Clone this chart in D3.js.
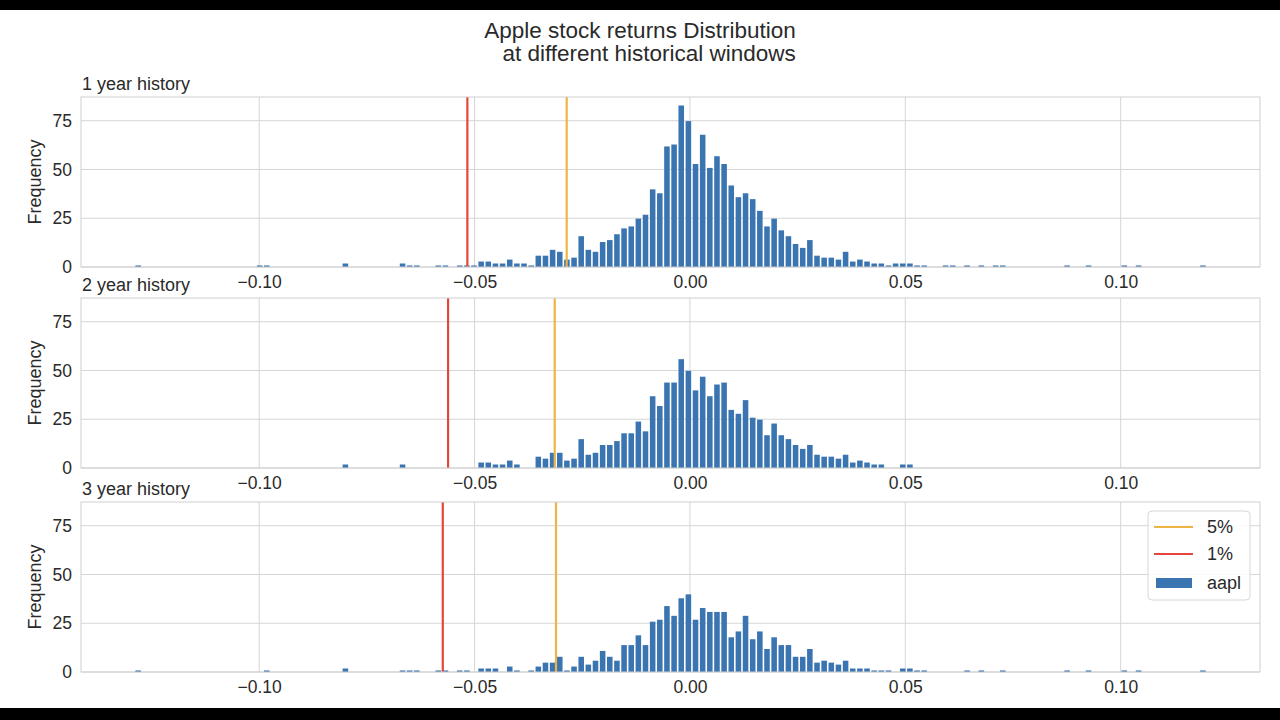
<!DOCTYPE html>
<html>
<head>
<meta charset="utf-8">
<script src="https://cdn.jsdelivr.net/npm/d3@7"></script>
<style>
  html, body { margin: 0; padding: 0; background: #fff; }
  svg { display: block; }
  text { font-family: "Liberation Sans", Arial, sans-serif; }
</style>
</head>
<body>
<svg id="chart" width="1280" height="720"></svg>
<script>
// ---------------- DATA ----------------
const titleLines = ["Apple stock returns Distribution", " at different historical windows"];
const panelTitles = ["1 year history", "2 year history", "3 year history"];
const seriesName = "aapl";
const xTicks = [-0.10, -0.05, 0.00, 0.05, 0.10];
const yTicks = [0, 25, 50, 75];

// histogram bins: 150 equal bins
const binStart = -0.12893;
const binWidth = 0.001659;

// [bin index, count] for non-empty bins
const hist1y = [[0,1],[17,1],[18,1],[29,2],[37,2],[38,1],[39,1],[42,1],[43,1],[45,1],[46,1],[47,1],
  [48,3],[49,3],[50,2],[51,2],[52,4],[53,2],[54,2],[55,1],[56,6],[57,6],[58,9],[59,8],[60,4],[61,5],
  [62,16],[63,9],[64,8],[65,13],[66,14],[67,17],[68,20],[69,21],[70,25],[71,27],[72,40],[73,38],
  [74,62],[75,63],[76,83],[77,75],[78,53],[79,68],[80,51],[81,57],[82,53],[83,42],[84,36],[85,38],
  [86,35],[87,29],[88,21],[89,25],[90,19],[91,16],[92,12],[93,10],[94,14],[95,6],[96,5],[97,5],
  [98,4],[99,8],[100,3],[101,4],[102,3],[103,2],[104,2],[105,1],[106,2],[107,2],[108,2],[109,1],
  [110,1],[113,1],[114,1],[116,1],[118,1],[120,1],[121,1],[130,1],[133,1],[138,1],[140,1],[149,1]];

const hist2y = [[29,2],[37,2],[48,3],[49,3],[50,2],[51,2],[52,4],[53,2],[56,6],[57,5],[58,8],[59,8],
  [60,4],[61,5],[62,15],[63,7],[64,8],[65,12],[66,12],[67,14],[68,18],[69,18],[70,24],[71,19],
  [72,37],[73,32],[74,44],[75,44],[76,56],[77,50],[78,40],[79,47],[80,37],[81,43],[82,44],[83,30],
  [84,28],[85,35],[86,26],[87,25],[88,17],[89,23],[90,17],[91,15],[92,12],[93,10],[94,12],[95,7],
  [96,6],[97,6],[98,5],[99,7],[100,3],[101,4],[102,3],[103,2],[104,2],[107,2],[108,2]];

const hist3y = [[0,1],[18,1],[29,2],[37,1],[38,1],[39,1],[42,1],[43,1],[45,1],[46,1],[48,2],[49,2],
  [50,2],[52,3],[53,1],[55,1],[56,3],[57,5],[58,5],[59,8],[60,1],[61,3],[62,8],[63,4],[64,6],[65,11],
  [66,8],[67,6],[68,14],[69,14],[70,19],[71,14],[72,26],[73,27],[74,34],[75,29],[76,38],[77,40],
  [78,27],[79,33],[80,31],[81,31],[82,31],[83,18],[84,21],[85,29],[86,17],[87,21],[88,12],[89,18],
  [90,14],[91,14],[92,8],[93,8],[94,12],[95,5],[96,6],[97,5],[98,4],[99,6],[100,2],[101,2],[102,2],
  [103,1],[104,1],[105,1],[107,2],[108,2],[109,1],[110,1],[116,1],[118,1],[121,1],[130,1],[133,1],
  [138,1],[140,1],[149,1]];

// VaR lines (5% and 1% quantiles)
const var5 = [-0.02861, -0.03139, -0.03109];
const var1 = [-0.05167, -0.05615, -0.05738];
const legendLabels = ["5%", "1%", "aapl"];

// ---------------- DRAW ----------------
const hists = [hist1y, hist2y, hist3y];
const colors = { bar: "#3a74b1", orange: "#efb446", red: "#e5453a", grid: "#d6d6d6", spine: "#cfcfcf", text: "#2a2a2a" };

const svg = d3.select("#chart");
svg.append("rect").attr("x",0).attr("y",0).attr("width",1280).attr("height",720).attr("fill","#fff");

const plotLeft = 81, plotRight = 1260;
const panelTops = [97, 298, 502];
const panelH = 170;

const x = d3.scaleLinear().domain([-0.14137, 0.13235]).range([plotLeft, plotRight]);
const yMax = 87.15;

// title
svg.append("text").attr("x", 640).attr("y", 38).attr("text-anchor","middle")
  .attr("font-size", 22.5).attr("fill", colors.text).text(titleLines[0]);
svg.append("text").attr("x", 646).attr("y", 61).attr("text-anchor","middle")
  .attr("font-size", 22.5).attr("fill", colors.text).attr("xml:space","preserve").text(titleLines[1]);

const fmt = d => d3.format(".2f")(d).replace("-", "\u2212");

hists.forEach((hist, p) => {
  const top = panelTops[p], bottom = top + panelH;
  const y = d3.scaleLinear().domain([0, yMax]).range([bottom, top]);
  const g = svg.append("g");

  // grid
  g.selectAll(".vg").data(xTicks).enter().append("line")
    .attr("x1", d => x(d)).attr("x2", d => x(d)).attr("y1", top).attr("y2", bottom)
    .attr("stroke", colors.grid).attr("stroke-width", 1);
  g.selectAll(".hg").data(yTicks).enter().append("line")
    .attr("x1", plotLeft).attr("x2", plotRight).attr("y1", d => y(d)).attr("y2", d => y(d))
    .attr("stroke", colors.grid).attr("stroke-width", 1);

  // bars
  g.selectAll(".bar").data(hist).enter().append("rect")
    .attr("x", d => x(binStart + d[0]*binWidth) + 0.8)
    .attr("width", d => x(binStart + (d[0]+1)*binWidth) - x(binStart + d[0]*binWidth) - 1.6)
    .attr("y", d => y(d[1]) + 0.4)
    .attr("height", d => Math.max(0.8, y(0) - y(d[1]) - 0.4))
    .attr("fill", colors.bar);

  // VaR lines
  g.append("line").attr("x1", x(var5[p])).attr("x2", x(var5[p])).attr("y1", top).attr("y2", bottom)
    .attr("stroke", colors.orange).attr("stroke-width", 2.2);
  g.append("line").attr("x1", x(var1[p])).attr("x2", x(var1[p])).attr("y1", top).attr("y2", bottom)
    .attr("stroke", colors.red).attr("stroke-width", 2.2);

  // frame
  g.append("rect").attr("x", plotLeft).attr("y", top).attr("width", plotRight - plotLeft).attr("height", panelH)
    .attr("fill", "none").attr("stroke", colors.spine).attr("stroke-width", 1);

  // axes tick labels via d3 axes
  const xAxis = d3.axisBottom(x).tickValues(xTicks).tickFormat(fmt).tickSize(0).tickPadding(9);
  const ax = g.append("g").attr("transform", `translate(0,${bottom})`).call(xAxis);
  ax.select(".domain").remove();
  ax.selectAll("text").attr("font-size", 17.5).attr("fill", colors.text)
    .attr("font-family", '"Liberation Sans", Arial, sans-serif');

  const yAxis = d3.axisLeft(y).tickValues(yTicks).tickFormat(d3.format("d")).tickSize(0).tickPadding(9);
  const ay = g.append("g").attr("transform", `translate(${plotLeft},0)`).call(yAxis);
  ay.select(".domain").remove();
  ay.selectAll("text").attr("font-size", 17.5).attr("fill", colors.text)
    .attr("font-family", '"Liberation Sans", Arial, sans-serif');

  // panel title
  g.append("text").attr("x", 82).attr("y", top - 7).attr("font-size", 18).attr("fill", colors.text)
    .text(panelTitles[p]);

  // y label
  g.append("text").attr("transform", `translate(41,${top + panelH/2}) rotate(-90)`)
    .attr("text-anchor","middle").attr("font-size", 18).attr("fill", colors.text).text("Frequency");

  // legend on last panel
  if (p === 2) {
    const lg = g.append("g");
    lg.append("rect").attr("x", 1148).attr("y", 511).attr("width", 102).attr("height", 89).attr("rx", 4)
      .attr("fill", "#fff").attr("fill-opacity", 0.85).attr("stroke", "#d6d6d6");
    const rows = [527, 554, 583];
    lg.append("line").attr("x1", 1154).attr("x2", 1193).attr("y1", rows[0]).attr("y2", rows[0])
      .attr("stroke", colors.orange).attr("stroke-width", 2.2);
    lg.append("line").attr("x1", 1154).attr("x2", 1193).attr("y1", rows[1]).attr("y2", rows[1])
      .attr("stroke", colors.red).attr("stroke-width", 2.2);
    lg.append("rect").attr("x", 1156).attr("y", rows[2]-5).attr("width", 36).attr("height", 10)
      .attr("fill", colors.bar);
    legendLabels.forEach((t, i) => {
      lg.append("text").attr("x", 1207).attr("y", rows[i] + 6).attr("font-size", 18)
        .attr("fill", colors.text).text(t);
    });
  }
});

// letterbox bands as in the reference
svg.append("rect").attr("x",0).attr("y",0).attr("width",1280).attr("height",10).attr("fill","#000");
svg.append("rect").attr("x",0).attr("y",708).attr("width",1280).attr("height",12).attr("fill","#000");
</script>
</body>
</html>
